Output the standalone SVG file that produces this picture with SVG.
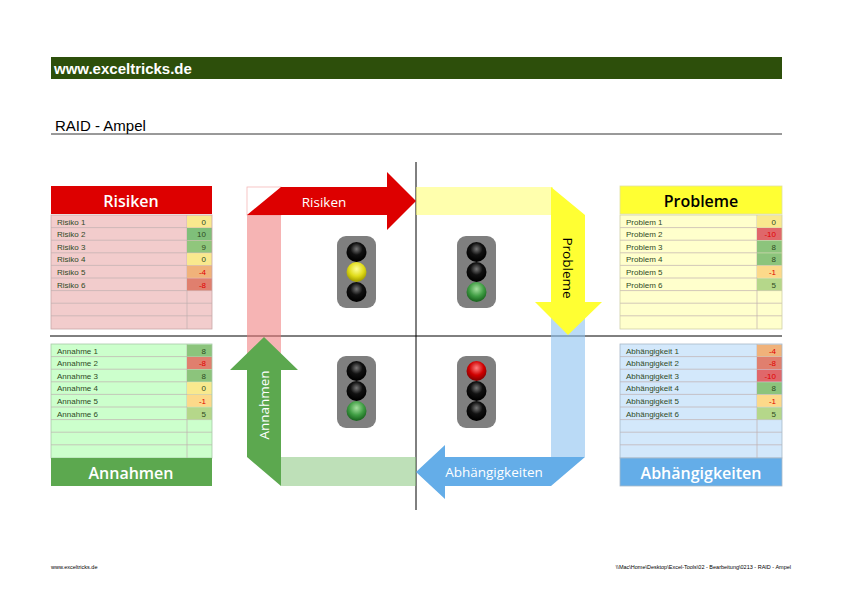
<svg xmlns="http://www.w3.org/2000/svg" width="842" height="595" viewBox="0 0 842 595">
<style>
.t{font-family:"Liberation Sans",Arial,sans-serif;font-size:8px;fill:#2f4a1f}
.v{font-family:"Liberation Sans",Arial,sans-serif;font-size:8px;text-anchor:end}
.h{font-family:"Open Sans","Liberation Sans",sans-serif;font-size:16px;font-weight:600;text-anchor:middle}
.a{font-family:"Open Sans","Liberation Sans",sans-serif;font-size:13.5px;font-weight:500;fill:#fff;text-anchor:middle}
.g{stroke:#c0b0b0;stroke-width:0.7}
.body{fill:#7f7f7f}
.off{fill:url(#off)}
</style>
<defs>
<radialGradient id="off" cx="0.5" cy="0.35" r="0.6"><stop offset="0" stop-color="#777"/><stop offset="0.5" stop-color="#111"/><stop offset="1" stop-color="#000"/></radialGradient>
<radialGradient id="yel" cx="0.5" cy="0.35" r="0.6"><stop offset="0" stop-color="#ffff99"/><stop offset="0.6" stop-color="#e0dc1a"/><stop offset="1" stop-color="#a9a400"/></radialGradient>
<radialGradient id="grn" cx="0.5" cy="0.35" r="0.6"><stop offset="0" stop-color="#a7e0a0"/><stop offset="0.6" stop-color="#3f9d43"/><stop offset="1" stop-color="#1d6a22"/></radialGradient>
<radialGradient id="red" cx="0.5" cy="0.35" r="0.6"><stop offset="0" stop-color="#ff8080"/><stop offset="0.6" stop-color="#d00000"/><stop offset="1" stop-color="#8a0000"/></radialGradient>
</defs>
<rect width="842" height="595" fill="#fff"/>
<g id="header">
<rect x="51" y="57" width="731" height="22" fill="#2d4f0b"/>
<text x="54" y="74" font-family="Liberation Sans,Arial,sans-serif" font-size="15" font-weight="bold" fill="#fff">www.exceltricks.de</text>
<text x="55" y="131" font-family="Liberation Sans,Arial,sans-serif" font-size="15" fill="#000">RAID - Ampel</text>
<line x1="51" y1="134" x2="782" y2="134" stroke="#000" stroke-width="0.8"/>
</g>
<g id="axes" stroke="#000" stroke-width="1">
<line x1="416" y1="162" x2="416" y2="510"/>
<line x1="50" y1="336" x2="782" y2="336"/>
</g>
<g id="risiken">
<rect x="51" y="215" width="161" height="114" fill="#f2cccc"/>
<g class="g">
<line x1="51" y1="227.6" x2="212" y2="227.6"/><line x1="51" y1="240.2" x2="212" y2="240.2"/><line x1="51" y1="252.8" x2="212" y2="252.8"/><line x1="51" y1="265.4" x2="212" y2="265.4"/><line x1="51" y1="278" x2="212" y2="278"/><line x1="51" y1="290.6" x2="212" y2="290.6"/><line x1="51" y1="303.2" x2="212" y2="303.2"/><line x1="51" y1="315.8" x2="212" y2="315.8"/>
<line x1="187" y1="215" x2="187" y2="329"/>
</g>
<rect x="187" y="215.5" width="25" height="12" fill="#f9e98e"/><rect x="187" y="228" width="25" height="12" fill="#7fbf7a"/><rect x="187" y="240.6" width="25" height="12" fill="#90c67c"/><rect x="187" y="253.2" width="25" height="12" fill="#f9e98e"/><rect x="187" y="265.8" width="25" height="12" fill="#f0b27a"/><rect x="187" y="278.4" width="25" height="12" fill="#e07f6e"/>
<rect x="51" y="215" width="161" height="114" fill="none" stroke="#c8a8a8" stroke-width="0.8"/>
<rect x="51" y="186" width="161" height="28" fill="#dd0000"/>
<text class="h" x="131" y="207" fill="#fff">Risiken</text>
<text class="t" x="57" y="224.6">Risiko 1</text><text class="t" x="57" y="237.2">Risiko 2</text><text class="t" x="57" y="249.8">Risiko 3</text><text class="t" x="57" y="262.4">Risiko 4</text><text class="t" x="57" y="275">Risiko 5</text><text class="t" x="57" y="287.6">Risiko 6</text>
<text class="v" x="206" y="224.6" fill="#2f4a1f">0</text><text class="v" x="206" y="237.2" fill="#2f4a1f">10</text><text class="v" x="206" y="249.8" fill="#2f4a1f">9</text><text class="v" x="206" y="262.4" fill="#2f4a1f">0</text><text class="v" x="206" y="275" fill="#e00000">-4</text><text class="v" x="206" y="287.6" fill="#e00000">-8</text>
</g>
<g id="probleme">
<rect x="620" y="215" width="162" height="114" fill="#ffffcc"/>
<g class="g" stroke="#c8c8a0">
<line x1="620" y1="227.6" x2="782" y2="227.6"/><line x1="620" y1="240.2" x2="782" y2="240.2"/><line x1="620" y1="252.8" x2="782" y2="252.8"/><line x1="620" y1="265.4" x2="782" y2="265.4"/><line x1="620" y1="278" x2="782" y2="278"/><line x1="620" y1="290.6" x2="782" y2="290.6"/><line x1="620" y1="303.2" x2="782" y2="303.2"/><line x1="620" y1="315.8" x2="782" y2="315.8"/>
<line x1="757" y1="215" x2="757" y2="329"/>
</g>
<rect x="757" y="215.5" width="25" height="12" fill="#f9e98e"/><rect x="757" y="228" width="25" height="12" fill="#e0676a"/><rect x="757" y="240.6" width="25" height="12" fill="#8cc47c"/><rect x="757" y="253.2" width="25" height="12" fill="#8cc47c"/><rect x="757" y="265.8" width="25" height="12" fill="#fcd98a"/><rect x="757" y="278.4" width="25" height="12" fill="#b5d78a"/>
<rect x="620" y="215" width="162" height="114" fill="none" stroke="#d0d0a8" stroke-width="0.8"/>
<rect x="620" y="186" width="162" height="28" fill="#ffff33" stroke="#e0e0a0" stroke-width="0.8"/>
<text class="h" x="701" y="207" fill="#000">Probleme</text>
<text class="t" x="626" y="224.6">Problem 1</text><text class="t" x="626" y="237.2">Problem 2</text><text class="t" x="626" y="249.8">Problem 3</text><text class="t" x="626" y="262.4">Problem 4</text><text class="t" x="626" y="275">Problem 5</text><text class="t" x="626" y="287.6">Problem 6</text>
<text class="v" x="776" y="224.6" fill="#2f4a1f">0</text><text class="v" x="776" y="237.2" fill="#e00000">-10</text><text class="v" x="776" y="249.8" fill="#2f4a1f">8</text><text class="v" x="776" y="262.4" fill="#2f4a1f">8</text><text class="v" x="776" y="275" fill="#e00000">-1</text><text class="v" x="776" y="287.6" fill="#2f4a1f">5</text>
</g>
<g id="annahmen">
<rect x="51" y="344" width="161" height="114" fill="#ccffcc"/>
<g class="g" stroke="#a8c8a8">
<line x1="51" y1="356.6" x2="212" y2="356.6"/><line x1="51" y1="369.2" x2="212" y2="369.2"/><line x1="51" y1="381.8" x2="212" y2="381.8"/><line x1="51" y1="394.4" x2="212" y2="394.4"/><line x1="51" y1="407" x2="212" y2="407"/><line x1="51" y1="419.6" x2="212" y2="419.6"/><line x1="51" y1="432.2" x2="212" y2="432.2"/><line x1="51" y1="444.8" x2="212" y2="444.8"/>
<line x1="187" y1="344" x2="187" y2="458"/>
</g>
<rect x="187" y="344.5" width="25" height="12" fill="#8cc47c"/><rect x="187" y="357" width="25" height="12" fill="#e07f6e"/><rect x="187" y="369.6" width="25" height="12" fill="#8cc47c"/><rect x="187" y="382.2" width="25" height="12" fill="#f9e98e"/><rect x="187" y="394.8" width="25" height="12" fill="#fcd98a"/><rect x="187" y="407.4" width="25" height="12" fill="#b5d78a"/>
<rect x="51" y="344" width="161" height="114" fill="none" stroke="#a8c8a8" stroke-width="0.8"/>
<rect x="51" y="458" width="161" height="28" fill="#5ca84f"/>
<text class="h" x="131" y="479" fill="#fff">Annahmen</text>
<text class="t" x="57" y="353.6">Annahme 1</text><text class="t" x="57" y="366.2">Annahme 2</text><text class="t" x="57" y="378.8">Annahme 3</text><text class="t" x="57" y="391.4">Annahme 4</text><text class="t" x="57" y="404">Annahme 5</text><text class="t" x="57" y="416.6">Annahme 6</text>
<text class="v" x="206" y="353.6" fill="#2f4a1f">8</text><text class="v" x="206" y="366.2" fill="#e00000">-8</text><text class="v" x="206" y="378.8" fill="#2f4a1f">8</text><text class="v" x="206" y="391.4" fill="#2f4a1f">0</text><text class="v" x="206" y="404" fill="#e00000">-1</text><text class="v" x="206" y="416.6" fill="#2f4a1f">5</text>
</g>
<g id="abhaengigkeiten">
<rect x="620" y="344" width="162" height="114" fill="#d3e8fb"/>
<g class="g" stroke="#a8b8c8">
<line x1="620" y1="356.6" x2="782" y2="356.6"/><line x1="620" y1="369.2" x2="782" y2="369.2"/><line x1="620" y1="381.8" x2="782" y2="381.8"/><line x1="620" y1="394.4" x2="782" y2="394.4"/><line x1="620" y1="407" x2="782" y2="407"/><line x1="620" y1="419.6" x2="782" y2="419.6"/><line x1="620" y1="432.2" x2="782" y2="432.2"/><line x1="620" y1="444.8" x2="782" y2="444.8"/>
<line x1="757" y1="344" x2="757" y2="458"/>
</g>
<rect x="757" y="344.5" width="25" height="12" fill="#f0b27a"/><rect x="757" y="357" width="25" height="12" fill="#e07f6e"/><rect x="757" y="369.6" width="25" height="12" fill="#e0676a"/><rect x="757" y="382.2" width="25" height="12" fill="#8cc47c"/><rect x="757" y="394.8" width="25" height="12" fill="#fcd98a"/><rect x="757" y="407.4" width="25" height="12" fill="#b5d78a"/>
<rect x="620" y="344" width="162" height="114" fill="none" stroke="#a8b8c8" stroke-width="0.8"/>
<rect x="620" y="458" width="162" height="28" fill="#64ade8" stroke="#a8b8c8" stroke-width="0.8"/>
<text class="h" x="701" y="479" fill="#fff">Abhängigkeiten</text>
<text class="t" x="626" y="353.6">Abhängigkeit 1</text><text class="t" x="626" y="366.2">Abhängigkeit 2</text><text class="t" x="626" y="378.8">Abhängigkeit 3</text><text class="t" x="626" y="391.4">Abhängigkeit 4</text><text class="t" x="626" y="404">Abhängigkeit 5</text><text class="t" x="626" y="416.6">Abhängigkeit 6</text>
<text class="v" x="776" y="353.6" fill="#e00000">-4</text><text class="v" x="776" y="366.2" fill="#e00000">-8</text><text class="v" x="776" y="378.8" fill="#e00000">-10</text><text class="v" x="776" y="391.4" fill="#2f4a1f">8</text><text class="v" x="776" y="404" fill="#e00000">-1</text><text class="v" x="776" y="416.6" fill="#2f4a1f">5</text>
</g>
<g id="connectors">
<rect x="247" y="187" width="34" height="28" fill="none" stroke="#f4b8b8" stroke-width="0.8"/>
<rect x="247" y="215" width="34" height="167" fill="#ee7777" opacity="0.55"/>
<rect x="416" y="187" width="137" height="28" fill="#ffff77" opacity="0.6"/>
<rect x="551" y="318" width="34" height="139" fill="#8cc2f0" opacity="0.6"/>
<rect x="281" y="457" width="135" height="29" fill="#88c77e" opacity="0.55"/>
<path d="M247,215 L281,187 L387,187 L387,172 L416,201 L387,230 L387,215 Z" fill="#dd0000"/>
<path d="M551,187 L585,215 L585,302 L602,302 L568,335 L535,302 L551,302 Z" fill="#ffff33"/>
<path d="M585,457 L551,486 L445,486 L445,499 L416,472 L445,445 L445,457 Z" fill="#64ade8"/>
<path d="M281,486 L247,457 L247,370 L230,370 L264,337 L298,370 L281,370 Z" fill="#5ca84f"/>
<text class="a" x="324" y="207">Risiken</text>
<text class="a" x="0" y="0" style="fill:#000" transform="translate(563,268) rotate(90)">Probleme</text>
<text class="a" x="494" y="477">Abhängigkeiten</text>
<text class="a" x="0" y="0" transform="translate(269,405) rotate(-90)">Annahmen</text>
</g>
<g id="ampel1">
<rect class="body" x="337" y="236" width="39" height="72" rx="9"/>
<circle class="off" cx="356.5" cy="252" r="10"/><circle fill="url(#yel)" cx="356.5" cy="272" r="10"/><circle class="off" cx="356.5" cy="292" r="10"/>
</g>
<g id="ampel2">
<rect class="body" x="457" y="236" width="39" height="72" rx="9"/>
<circle class="off" cx="476.5" cy="252" r="10"/><circle class="off" cx="476.5" cy="272" r="10"/><circle fill="url(#grn)" cx="476.5" cy="292" r="10"/>
</g>
<g id="ampel3">
<rect class="body" x="337" y="356" width="39" height="72" rx="9"/>
<circle class="off" cx="356.5" cy="371" r="10"/><circle class="off" cx="356.5" cy="391" r="10"/><circle fill="url(#grn)" cx="356.5" cy="411" r="10"/>
</g>
<g id="ampel4">
<rect class="body" x="457" y="356" width="39" height="72" rx="9"/>
<circle fill="url(#red)" cx="476.5" cy="371" r="10"/><circle class="off" cx="476.5" cy="391" r="10"/><circle class="off" cx="476.5" cy="411" r="10"/>
</g>
<g id="footer" font-family="Liberation Sans,Arial,sans-serif" font-size="5.5" fill="#000">
<text x="51" y="569">www.exceltricks.de</text>
<text x="791" y="569" text-anchor="end">\\Mac\Home\Desktop\Excel-Tools\02 - Bearbeitung\0213 - RAID - Ampel</text>
</g>
</svg>
